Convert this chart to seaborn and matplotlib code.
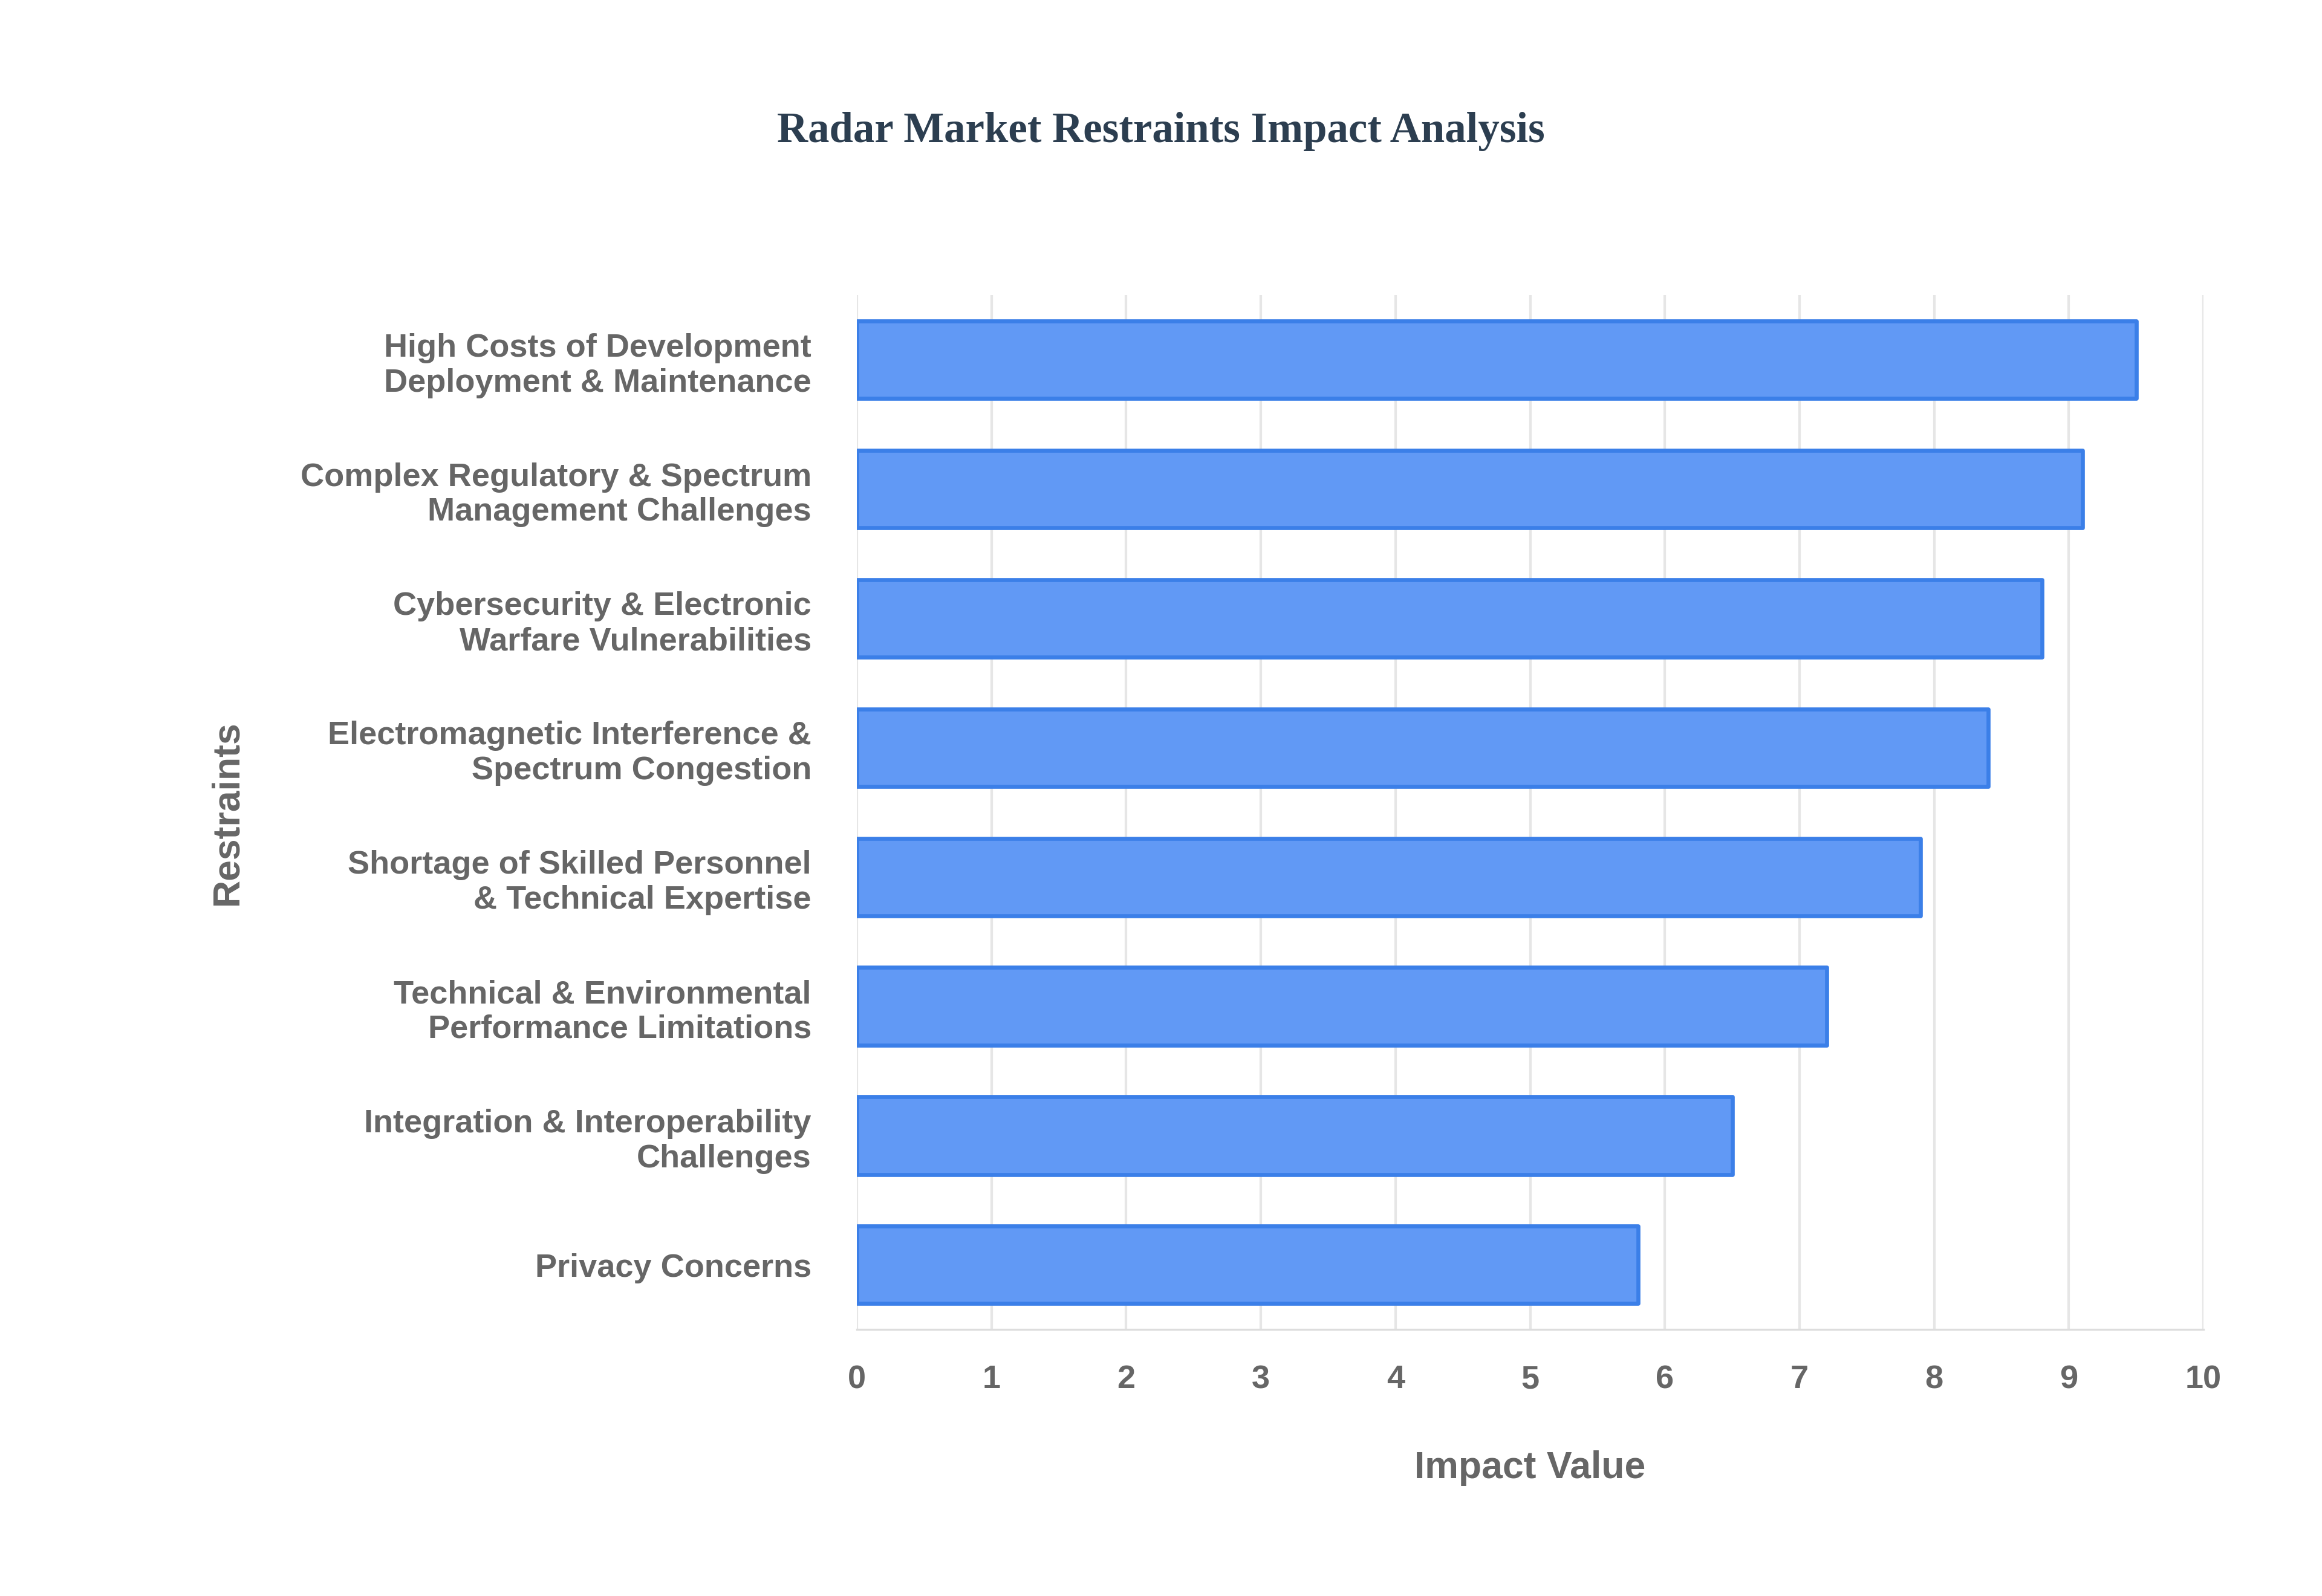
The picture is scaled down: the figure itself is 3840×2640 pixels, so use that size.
import matplotlib
matplotlib.use("Agg")
import matplotlib.pyplot as plt
import seaborn as sns
import pandas as pd

# Datos
restricciones = [
    "High Costs of Development\nDeployment & Maintenance",
    "Complex Regulatory & Spectrum\nManagement Challenges",
    "Cybersecurity & Electronic\nWarfare Vulnerabilities",
    "Electromagnetic Interference &\nSpectrum Congestion",
    "Shortage of Skilled Personnel\n& Technical Expertise",
    "Technical & Environmental\nPerformance Limitations",
    "Integration & Interoperability\nChallenges",
    "Privacy Concerns",
]
impacto = [9.5, 9.1, 8.8, 8.4, 7.9, 7.2, 6.5, 5.8]
ticks_x = list(range(0, 11))

df = pd.DataFrame({"Restraints": restricciones, "Impact Value": impacto})

sns.set_style("white")
plt.rcParams["font.family"] = ["Liberation Sans", "DejaVu Sans"]

fig = plt.figure(figsize=(12.8, 8.8), dpi=300)
ax = fig.add_axes([0.369, 0.167, 0.58, 0.648])

sns.barplot(data=df, x="Impact Value", y="Restraints", color="#6199F5",
            edgecolor="#3B7FE8", linewidth=1.6, width=0.6, saturation=1, ax=ax)
for p in ax.patches:
    p.set_joinstyle("round")

ax.set_xlim(0, 10)
ax.set_xticks(ticks_x)
ax.set_ylim(len(restricciones) - 0.5, -0.5)
ax.grid(axis="x", color="#e6e6e6", linewidth=1)
ax.set_axisbelow(True)
for s in ["top", "right", "left"]:
    ax.spines[s].set_visible(False)
ax.spines["bottom"].set_color("#dddddd")
ax.tick_params(axis="x", length=6, color="#dddddd", labelsize=13, labelcolor="#666666", pad=8)
ax.tick_params(axis="y", length=0, labelsize=13, labelcolor="#666666", pad=18)
for lab in ax.get_xticklabels() + ax.get_yticklabels():
    lab.set_fontweight("bold")

ax.set_xlabel("Impact Value", fontsize=15, fontweight="bold", color="#666666", labelpad=22)
ax.set_ylabel("Restraints", fontsize=15, fontweight="bold", color="#666666", labelpad=22)

fig.suptitle("Radar Market Restraints Impact Analysis", y=0.93, fontsize=17, fontweight="bold",
             color="#2C3E50", family=["Liberation Serif", "DejaVu Serif"])

plt.savefig("out.png", dpi=300, facecolor="white")
